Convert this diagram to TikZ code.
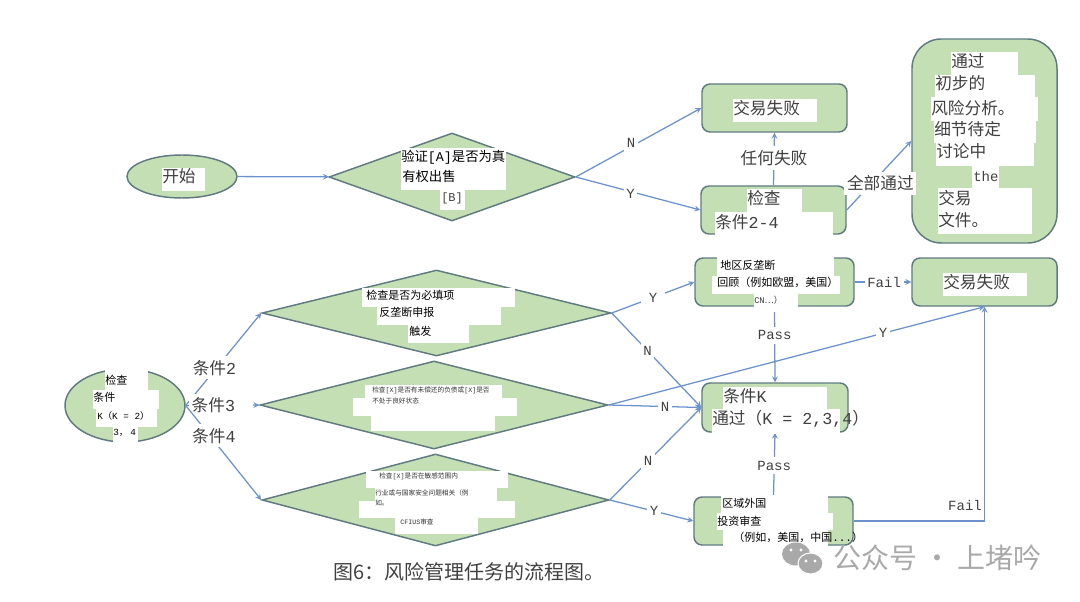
\documentclass[tikz,border=0pt]{standalone}
\usepackage{fontspec}
\usetikzlibrary{shapes.geometric}
\setmainfont{Noto Sans CJK SC}
\newfontfamily\monofam{Liberation Mono}
\newcommand{\mn}[1]{{\monofam #1}}
\definecolor{boxgreen}{HTML}{C5DFB4}
\definecolor{boxedge}{HTML}{5F7A80}
\definecolor{flowblue}{HTML}{6C92CE}
\definecolor{markgray}{HTML}{A9A9A9}
\tikzset{
  sized/.style 2 args={minimum width=#1*0.75pt, minimum height=#2*0.75pt},
  shapebase/.style={draw=boxedge, fill=boxgreen, line width=1.1pt, inner sep=0pt},
  choice/.style={shapebase, diamond},
  stepbox/.style={shapebase, rectangle, rounded corners=6pt},
  oval/.style={shapebase, ellipse},
  flow/.style={->, draw=flowblue, line width=0.95pt},
  lbl/.style={fill=white, inner xsep=2pt, inner ysep=3pt, text=black!75, font=\fontsize{12.5}{14}\selectfont},
  lbm/.style={lbl, font=\fontsize{10.5}{12}\monofam},
  big/.style={anchor=west, inner sep=0pt, text=black!75, font=\fontsize{12.5}{14}\selectfont},
  mid/.style={anchor=west, inner sep=0pt, font=\fontsize{8.25}{10}\selectfont},
  tiny/.style={anchor=west, inner sep=0pt, text=black!80, font=\fontsize{5}{6}\selectfont}
}
\begin{document}
\begin{tikzpicture}[x=0.75pt, y=-0.75pt, >=stealth]
  \useasboundingbox (0,0) rectangle (1080,602);

  % Formas
  \node[oval, sized={110}{43}] (start) at (182,176.5) {};
  \node[choice, sized={246}{88}] (verify) at (452,177) {};
  \node[stepbox, sized={145}{48}] (failtop) at (774.5,108) {};
  \node[stepbox, sized={145}{48}] (checkall) at (773.5,210) {};
  \node[stepbox, rounded corners=22pt, sized={145}{204}] (passall) at (984.5,141) {};

  \node[oval, sized={120}{73}] (checkk) at (125,405.5) {};
  \node[choice, sized={349}{86}] (antitrust) at (436.5,313) {};
  \node[choice, sized={348}{88}] (debts) at (434,405) {};
  \node[choice, sized={347}{92}] (sensitive) at (435.5,500) {};
  \node[stepbox, sized={159}{48}] (region) at (774.5,282) {};
  \node[stepbox, sized={145}{48}] (failbot) at (984.5,282) {};
  \node[stepbox, sized={146}{49}] (condk) at (775,407.5) {};
  \node[stepbox, sized={159}{48}] (foreign) at (773.5,521) {};

  % Flechas
  \draw[flow] (start) -- (verify);
  \draw[flow] (verify.east) -- node[lbm, pos=0.44, yshift=3pt] (n1) {N} (failtop.west);
  \draw[flow] (verify.east) -- node[lbm, pos=0.44, yshift=-2pt] (y1) {Y} (checkall.west);
  \draw[flow] (checkall.north) -- node[lbl, pos=0.52] (anyfail) {任何失败} (failtop.south);
  \draw[flow] (checkall.east) -- node[lbl, pos=0.5, yshift=-6pt, xshift=1pt] (allpass) {全部通过} (passall.west);

  \draw[flow] (checkk.east) -- node[lbl, pos=0.38, yshift=2pt] (c2) {条件\mn{2}} (antitrust.west);
  \draw[flow] (checkk.east) -- node[lbl, pos=0.48, text width=44pt, align=left] (c3) {条件\mn{3}} (debts.west);
  \draw[flow] (checkk.east) -- node[lbl, pos=0.32, xshift=3pt] (c4) {条件\mn{4}} (sensitive.west);

  \draw[flow] (antitrust.east) -- node[lbm, pos=0.5, inner xsep=6pt] (y2) {Y} (region.west);
  \draw[flow] (antitrust.east) -- node[lbm, pos=0.4] (n2) {N} (condk.west);
  \draw[flow] (debts.east) -- node[lbm, pos=0.73] (y3) {Y} (failbot.south);
  \draw[flow] (debts.east) -- node[lbm, pos=0.61] (n3) {N} (condk.west);
  \draw[flow] (sensitive.east) -- node[lbm, pos=0.42] (n4) {N} (condk.west);
  \draw[flow] (sensitive.east) -- node[lbm, pos=0.53] (y4) {Y} (foreign.west);

  \draw[flow] (region.south) -- node[lbm, pos=0.38] (p1) {Pass} (condk.north);
  \draw[flow] (foreign.north) -- node[lbm, pos=0.48] (p2) {Pass} (condk.south);
  \draw[flow] (region.east) -- node[lbm, pos=0.52, inner ysep=0pt] (f1) {Fail} (failbot.west);
  \draw[flow] (foreign.east) -| (failbot.south);

  % Parches blancos
  \foreach \xa/\ya/\xb/\yb in {162/168/205/191, 401/148/506/190, 440/190/465/210,
      733/99/817/122, 747/189/802/212, 715/212/833/235,
      951/52/1018/75, 935/75/1035/97, 931/97/1038/121, 934/121/1036/143,
      936/143/1034/166, 972/166/999/188, 938/188/1032/234,
      105/368/148/390, 93/390/159/409, 96/409/157/427, 113/427/138/444,
      362/288/515/307, 377/307/501/325, 408/325/469/343,
      365/385/502/398, 353/398/517/416, 371/416/495/431,
      366/471/508/488, 375/488/497/501, 359/501/515/518, 395/518/478/534,
      717/256/834/276, 712/276/840/294, 754/294/798/312,
      943/273/1027/296, 723/387/827/409, 712/409/840/434,
      721/495/828/513, 717/513/833/530, 723/530/828/547}
    \fill[white] (\xa,\ya) rectangle (\xb,\yb);

  % Textos
  \node[big] (tstart) at (162,176) {开始};
  \node[anchor=west, inner sep=0pt, font=\fontsize{10}{12}\selectfont] (tv1) at (401,157) {验证\mn{[A]}是否为真};
  \node[anchor=west, inner sep=0pt, font=\fontsize{10}{12}\selectfont] (tv2) at (402,176) {有权出售};
  \node[anchor=west, inner sep=0pt, text=black!75, font=\fontsize{9}{11}\monofam] (tv3) at (441,198) {[B]};
  \node[big] (tf1) at (733,108) {交易失败};
  \node[big] (tc1) at (747,198) {检查};
  \node[big] (tc2) at (715,222) {条件\mn{2-4}};
  \node[big] (tp1) at (951,61) {通过};
  \node[big] (tp2) at (935,83) {初步的};
  \node[big] (tp3) at (931,108) {风险分析。};
  \node[big] (tp4) at (934,129) {细节待定};
  \node[big] (tp5) at (936,151) {讨论中};
  \node[big, font=\fontsize{10.5}{12}\monofam] (tp6) at (973,176) {the};
  \node[big] (tp7) at (938,198) {交易};
  \node[big] (tp8) at (938,220) {文件。};

  \node[mid] (tk1) at (105,380) {检查};
  \node[mid] (tk2) at (93,397) {条件};
  \node[mid, font=\fontsize{7}{8}\selectfont] (tk3) at (97,416) {\mn{K}（\mn{K = 2}）};
  \node[mid, font=\fontsize{7}{8}\selectfont] (tk4) at (113,433) {\mn{3}， \mn{4}};

  \node[mid] (ta1) at (366,295) {检查是否为必填项};
  \node[mid] (ta2) at (379,312) {反垄断申报};
  \node[mid] (ta3) at (409,331) {触发};
  \node[tiny] (td1) at (372,390) {检查\mn{[X]}是否有未偿还的负债或\mn{[X]}是否};
  \node[tiny] (td2) at (372,401) {不处于良好状态};
  \node[tiny] (ts1) at (379,476) {检查\mn{[X]}是否在敏感范围内};
  \node[tiny] (ts2) at (375,493) {行业或与国家安全问题相关（例};
  \node[tiny] (ts3) at (375,503) {如。};
  \node[tiny] (ts4) at (400,522) {\mn{CFIUS}审查};

  \node[mid] (tr1) at (720,265) {地区反垄断};
  \node[mid] (tr2) at (717,282) {回顾（例如欧盟，美国）};
  \node[tiny, font=\fontsize{6.5}{8}\selectfont] (tr3) at (754,300) {\mn{CN}…）};
  \node[big] (tf2) at (943,282) {交易失败};
  \node[big] (tk5) at (723,396) {条件\mn{K}};
  \node[big] (tk6) at (712,419) {通过（\mn{K = 2,3,4}）};
  \node[mid] (tg1) at (722,503) {区域外国};
  \node[mid] (tg2) at (717,521) {投资审查};
  \node[mid] (tg3) at (733,537) {（例如，美国，中国\mn{...}）};
  \node[lbm, fill=none, inner sep=0pt] (f2) at (965,505) {Fail};

  % Pie y marca
  \node[anchor=west, inner sep=0pt, text=black!75, font=\fontsize{15}{18}\selectfont] (caption) at (333,572) {图6：风险管理任务的流程图。};
  \fill[markgray] (796,554) ellipse (14 and 11.5);
  \fill[markgray, draw=white, line width=0.8pt] (810.5,563.5) ellipse (12.5 and 10.5);
  \foreach \ex/\ey in {791/550, 801/550, 806/561, 815/561}
    \fill[white] (\ex,\ey) circle (1.6);
  \node[anchor=west, inner sep=0pt, text=markgray, font=\fontsize{21}{24}\selectfont] (mark) at (833,558) {公众号 · 上堵吟};
\end{tikzpicture}
\end{document}
